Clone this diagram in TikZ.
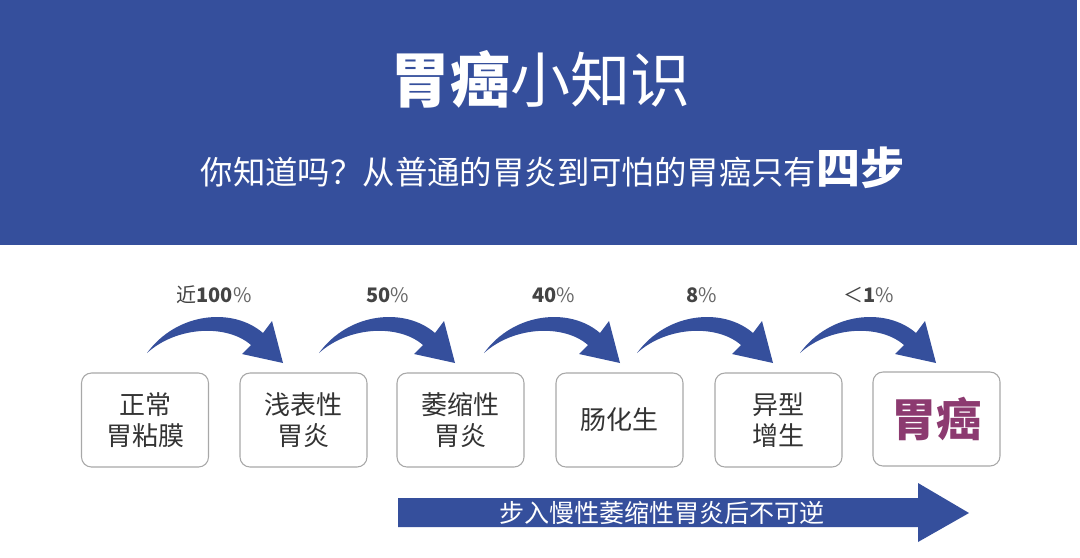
\documentclass[tikz,border=0pt]{standalone}
\usepackage{fontspec}
\setmainfont{Noto Sans CJK SC}
\definecolor{hblue}{HTML}{354F9C}
\definecolor{boxgray}{HTML}{A8A8A8}
\definecolor{txtgray}{HTML}{333333}
\definecolor{lblgray}{HTML}{444444}
\definecolor{pctgray}{HTML}{666666}
\definecolor{cpurple}{HTML}{8C3A70}
\tikzset{
  stagebox/.style={draw=boxgray, line width=0.8pt, rounded corners=7.5pt,
    minimum width=95.25pt, minimum height=70.5pt, inner sep=0pt,
    text=txtgray, align=center, font=\fontsize{19.5}{23}\selectfont},
  ratelbl/.style={text=lblgray, inner sep=0pt, font=\fontsize{15}{18}\selectfont},
  curvearrow/.style={fill=hblue}
}
\newcommand{\pct}{{\color{pctgray}\%}}
\begin{document}
\begin{tikzpicture}[x=0.75pt,y=-0.75pt]
\useasboundingbox (0,0) rectangle (1080,557);
\fill[white] (0,0) rectangle (1080,557);
% header
\fill[hblue] (0,0) rectangle (1077,245);
\node[text=white, inner sep=0pt, font=\fontsize{45}{50}\selectfont] (title) at (540,79) {\textbf{胃癌}小知识};
\node[text=white, inner sep=0pt, font=\fontsize{24.3}{28}\selectfont] (sub) at (552.5,168) {你知道吗？从普通的胃炎到可怕的胃癌只有\textbf{\fontsize{33}{36}\selectfont 四步}};
% stage boxes
\node[stagebox] (s1) at (145,420) {正常\\胃粘膜};
\node[stagebox] (s2) at (303.5,420) {浅表性\\胃炎};
\node[stagebox] (s3) at (460.5,420) {萎缩性\\胃炎};
\node[stagebox] (s4) at (619.5,420) {肠化生};
\node[stagebox] (s5) at (778.5,420) {异型\\增生};
\node[stagebox, text=cpurple, font=\fontsize{34}{38}\selectfont\bfseries] (s6) at (936.5,419) {胃癌};
% rate labels
\node[ratelbl] (r1) at (214,295) {近\textbf{100}\pct};
\node[ratelbl] (r2) at (388,295) {\textbf{50}\pct};
\node[ratelbl] (r3) at (554,295) {\textbf{40}\pct};
\node[ratelbl] (r4) at (702,295) {\textbf{8}\pct};
\node[ratelbl] (r5) at (869,295) {＜\textbf{1}\pct};
% curved arrows
\foreach \tx in {147,319,484,637,800}{
  \begin{scope}[shift={(\tx,353)}]
    \fill[curvearrow] (0,0) .. controls (30,-41) and (86,-46) .. (116,-20)
      -- (125,-32) -- (136,10) -- (95,1) -- (104,-8)
      .. controls (80,-29) and (30,-27) .. (0,0) -- cycle;
  \end{scope}
}
% bottom arrow
\fill[hblue] (398,498) -- (918,498) -- (918,483) -- (969,513) -- (918,542) -- (918,527) -- (398,527) -- cycle;
\node[text=white, inner sep=0pt, font=\fontsize{18.8}{22}\selectfont] (irr) at (662,513) {步入慢性萎缩性胃炎后不可逆};
\end{tikzpicture}
\end{document}
